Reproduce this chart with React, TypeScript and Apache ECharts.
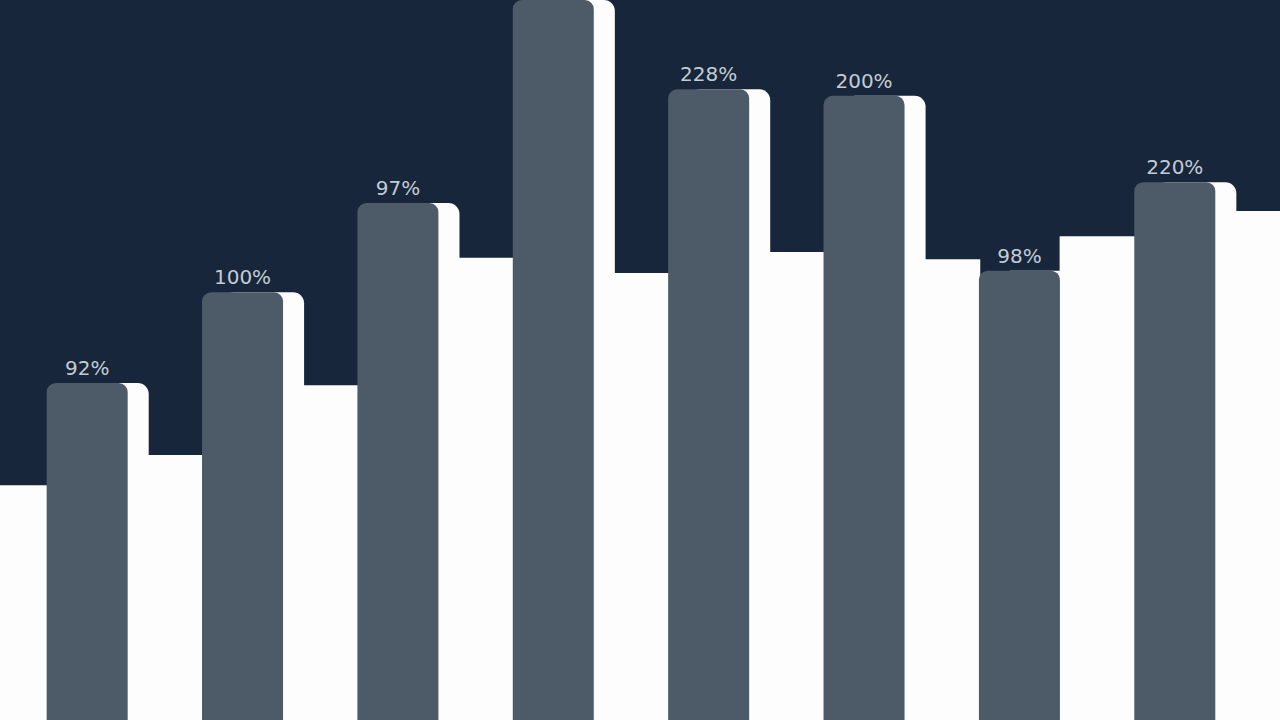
import React, { useEffect, useRef } from 'react';
import * as echarts from 'echarts';

// gray bars (height on a 0-100 scale of the plot) and their value labels
const barCategories = ['B1', 'B2', 'B3', 'B4', 'B5', 'B6', 'B7', 'B8'];
const barValues = [46.8, 59.4, 71.8, 104, 87.6, 86.7, 62.4, 74.7];
const barLabels = ['92%', '100%', '97%', '', '228%', '200%', '98%', '220%'];

// white steps between the bars
const stepCategories = ['S0', 'S1', 'S2', 'S3', 'S4', 'S5', 'S6', 'S7', 'S8'];
const stepValues = [32.6, 36.8, 46.5, 64.2, 62.1, 65.0, 64.0, 67.2, 70.7];

const BG = '#17263a';
const GRAY = '#4c5b67';
const WHITE = '#fdfdfd';

export default function App() {
  const chartRef = useRef<HTMLDivElement>(null);

  useEffect(() => {
    if (!chartRef.current) return;

    const chart = echarts.init(chartRef.current, undefined, { renderer: 'svg' });

    const option = {
      animation: false,
      backgroundColor: BG,
      grid: [
        { left: 20, top: 0, width: 1243, height: 720 },
        // steps sit on the ticks (boundaryGap false), between the bars
        { left: 10, top: 0, width: 1243, height: 720 },
      ],
      xAxis: [
        { type: 'category', gridIndex: 0, data: barCategories, show: false },
        { type: 'category', gridIndex: 1, data: stepCategories, boundaryGap: false, show: false },
      ],
      yAxis: [
        { type: 'value', gridIndex: 0, min: 0, max: 100, show: false },
        { type: 'value', gridIndex: 1, min: 0, max: 100, show: false },
      ],
      series: [
        {
          name: 'bars',
          type: 'bar',
          xAxisIndex: 0,
          yAxisIndex: 0,
          data: barValues,
          barWidth: 81,
          barGap: '-74%',
          z: 3,
          itemStyle: { color: GRAY, borderRadius: [9, 9, 0, 0] },
          label: {
            show: true,
            position: 'top',
            distance: 5,
            color: '#c3ccd4',
            fontSize: 20,
            fontWeight: 500,
            fontFamily: 'DejaVu Sans',
            formatter: (p: any) => barLabels[p.dataIndex],
          },
        },
        {
          name: 'shadow',
          type: 'bar',
          xAxisIndex: 0,
          yAxisIndex: 0,
          data: barValues,
          barWidth: 81,
          z: 2,
          itemStyle: { color: WHITE, borderRadius: [11, 11, 0, 0] },
        },
        {
          name: 'steps',
          type: 'bar',
          xAxisIndex: 1,
          yAxisIndex: 1,
          data: stepValues,
          barWidth: 76,
          clip: false,
          z: 1,
          itemStyle: { color: WHITE },
        },
      ],
    };

    chart.setOption(option);

    return () => chart.dispose();
  }, []);

  return (
    <div
      ref={chartRef}
      style={{ position: 'fixed', left: 0, top: 0, width: '1280px', height: '720px' }}
    />
  );
}
